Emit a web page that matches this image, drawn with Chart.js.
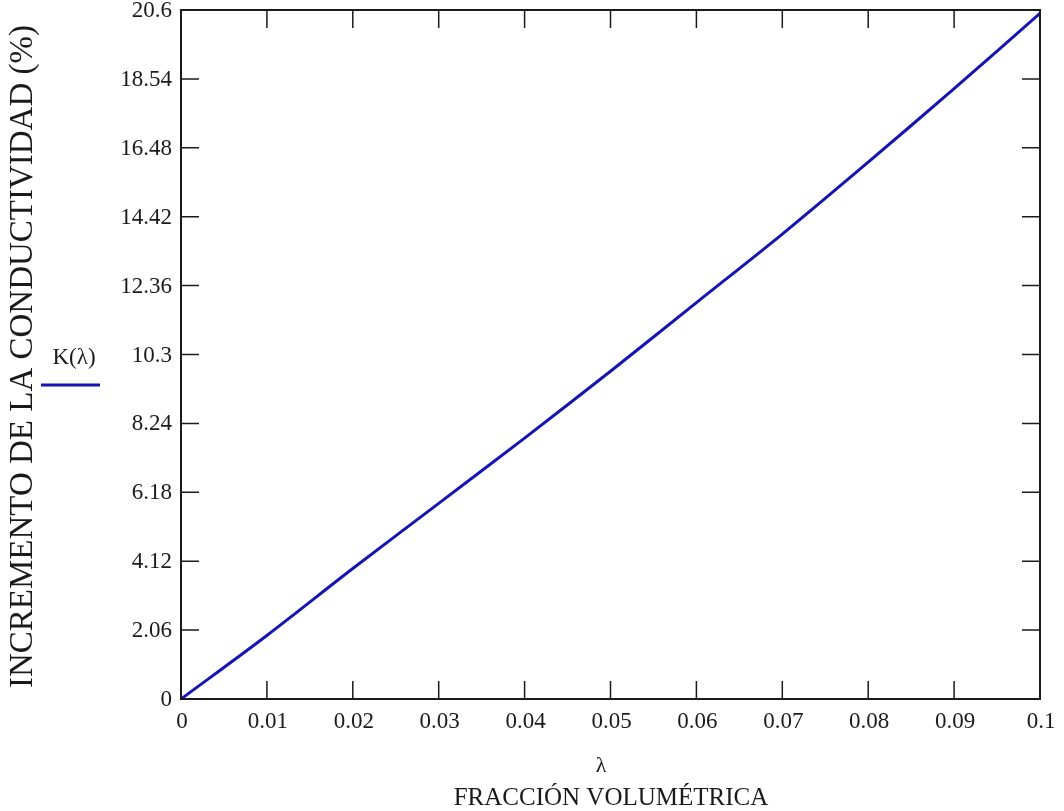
<!DOCTYPE html>
<html><head><meta charset="utf-8">
<script src="https://cdn.jsdelivr.net/npm/chart.js@4.4.1/dist/chart.umd.min.js"></script>
<style>html,body{margin:0;padding:0;background:#fff}#wrap{width:1064px;height:811px}</style>
</head><body><div id="wrap"><canvas id="c" width="1064" height="811"></canvas></div>
<script>
const lambdaValues = [0, 0.01, 0.02, 0.03, 0.04, 0.05, 0.06, 0.07, 0.08, 0.09, 0.1];
const kValues = [0, 1.9, 3.9, 5.85, 7.8, 9.8, 11.85, 13.9, 16.05, 18.25, 20.5];
const yTickLabels = ["0","2.06","4.12","6.18","8.24","10.3","12.36","14.42","16.48","18.54","20.6"];
const xTickLabels = ["0","0.01","0.02","0.03","0.04","0.05","0.06","0.07","0.08","0.09","0.1"];
const seriesName = "K(\u03bb)";
const yTitle = "INCREMENTO DE LA CONDUCTIVIDAD (%)";
const xSymbol = "\u03bb";
const xTitle = "FRACCI\u00d3N VOLUM\u00c9TRICA";

const FONT = "'Liberation Serif', 'Times New Roman', serif";
const LINE = "#1414b4";
const INK = "#1a1a1a";

const framePlugin = {
  id: 'frame',
  afterDraw(chart) {
    const {ctx, chartArea: a, scales: {x, y}} = chart;
    ctx.save();
    ctx.strokeStyle = INK;
    ctx.lineWidth = 2;
    ctx.strokeRect(a.left, a.top, a.right - a.left, a.bottom - a.top);
    ctx.lineWidth = 1.5;
    const L = 18;
    ctx.beginPath();
    ctx.fillStyle = INK;
    xTickLabels.forEach(t => {
      const v = parseFloat(t);
      const px = x.getPixelForValue(v);
      if (px > a.left + 2 && px < a.right - 2) {
        ctx.moveTo(px, a.bottom); ctx.lineTo(px, a.bottom - L);
        ctx.moveTo(px, a.top); ctx.lineTo(px, a.top + L);
      }
    });
    yTickLabels.forEach(t => {
      const v = parseFloat(t);
      const py = y.getPixelForValue(v);
      if (py > a.top + 2 && py < a.bottom - 2) {
        ctx.moveTo(a.left, py); ctx.lineTo(a.left + L, py);
        ctx.moveTo(a.right, py); ctx.lineTo(a.right - L, py);
      }
    });
    ctx.stroke();
    // tick labels
    ctx.font = "23px " + FONT;
    ctx.textAlign = 'center';
    ctx.textBaseline = 'middle';
    xTickLabels.forEach(t => {
      const px = x.getPixelForValue(parseFloat(t));
      ctx.fillText(t, px + 1, a.bottom + 23);
    });
    ctx.textAlign = 'right';
    yTickLabels.forEach(t => {
      const py = y.getPixelForValue(parseFloat(t));
      ctx.fillText(t, a.left - 9, py + 1);
    });
    // y title
    ctx.font = "33px " + FONT;
    ctx.textAlign = 'center';
    ctx.textBaseline = 'middle';
    ctx.save();
    ctx.translate(23, (a.top + a.bottom) / 2 + 2);
    ctx.rotate(-Math.PI / 2);
    ctx.fillText(yTitle, 0, 0);
    ctx.restore();
    // legend
    ctx.font = "23px " + FONT;
    ctx.textAlign = 'center';
    ctx.textBaseline = 'alphabetic';
    ctx.fillText(seriesName, 74, 364);
    ctx.strokeStyle = LINE;
    ctx.lineWidth = 3;
    ctx.beginPath(); ctx.moveTo(41, 385); ctx.lineTo(100, 385); ctx.stroke();
    // x titles
    ctx.fillStyle = INK;
    ctx.font = "22px " + FONT;
    ctx.fillText(xSymbol, 601, 772);
    ctx.font = "25px " + FONT;
    ctx.fillText(xTitle, 611, 805);
    ctx.restore();
  }
};

new Chart(document.getElementById('c'), {
  type: 'scatter',
  data: {
    datasets: [{
      label: seriesName,
      data: lambdaValues.map((v, i) => ({x: v, y: kValues[i]})),
      showLine: true,
      borderColor: LINE,
      borderWidth: 3,
      pointRadius: 0,
      tension: 0.3,
      fill: false
    }]
  },
  options: {
    responsive: false,
    animation: false,
    devicePixelRatio: 1,
    layout: {padding: {top: 10, right: 24, left: 0, bottom: 0}},
    plugins: {legend: {display: false}, tooltip: {enabled: false}},
    scales: {
      x: {
        type: 'linear', min: 0, max: 0.1,
        afterFit(s) { s.height = 112; },
        grid: {display: false, drawTicks: false},
        border: {display: false},
        ticks: {display: false}
      },
      y: {
        type: 'linear', min: 0, max: 20.6,
        afterFit(s) { s.width = 181; },
        grid: {display: false, drawTicks: false},
        border: {display: false},
        ticks: {display: false}
      }
    }
  },
  plugins: [framePlugin]
});
</script></body></html>
